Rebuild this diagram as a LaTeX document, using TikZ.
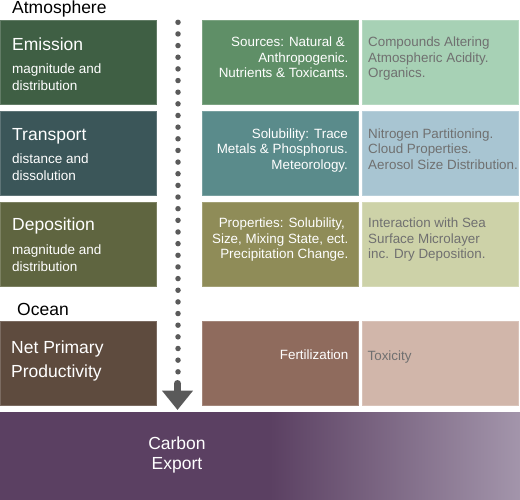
\documentclass[tikz,border=0pt]{standalone}
\usepackage{fontspec}
\setmainfont{Liberation Sans}
\usetikzlibrary{arrows.meta,calc}
\definecolor{cEmis}{HTML}{3F5F44}
\definecolor{cTrans}{HTML}{3B5659}
\definecolor{cDepo}{HTML}{5F6540}
\definecolor{cNpp}{HTML}{5E4B3E}
\definecolor{cSrc}{HTML}{5F8F67}
\definecolor{cSol}{HTML}{5A8B8B}
\definecolor{cProp}{HTML}{8F8C58}
\definecolor{cFert}{HTML}{8F6B5D}
\definecolor{cComp}{HTML}{A7D1B5}
\definecolor{cNitro}{HTML}{A8C5D2}
\definecolor{cInter}{HTML}{CDD2A8}
\definecolor{cTox}{HTML}{D1B6AA}
\definecolor{cExpA}{HTML}{5B4062}
\definecolor{cExpB}{HTML}{A395AB}
\definecolor{txtgray}{HTML}{707070}
\definecolor{dotgray}{HTML}{5A5A5A}
\tikzset{
 box/.style={draw=#1!82!white, line width=0.8pt, fill=#1, minimum width=156.2pt, minimum height=83.7pt, inner sep=0pt, outer sep=0pt, anchor=north west},
 ttl/.style={anchor=base west, inner sep=0pt, text=white, font=\fontsize{17.5}{24}\selectfont},
 subt/.style={anchor=base west, inner sep=0pt, text=white, align=left, font=\fontsize{13.5}{17}\selectfont},
 midt/.style={anchor=base east, inner sep=0pt, text=white, align=right, font=\fontsize{13.4}{15.4}\selectfont},
 rgtt/.style={anchor=base west, inner sep=0pt, text=txtgray, align=left, font=\fontsize{13.4}{15.4}\selectfont},
 head/.style={anchor=base west, inner sep=0pt, text=black, font=\fontsize{17.5}{21}\selectfont},
 dotline/.style={draw=dotgray, line width=5.5pt, line cap=round, dash pattern=on 0pt off 11.65pt},
 bigarrow/.style={draw=dotgray, line width=7pt, -{Triangle[width=30pt,length=19.5pt]}},
}
\begin{document}
\begin{tikzpicture}[x=1pt,y=-1pt]
\useasboundingbox (0,0) rectangle (520,500);
% header labels
\node[head] (atm) at (12,14) {Atmosphere};
\node[head] (ocean) at (17,315.5) {Ocean};
% left column
\node[box=cEmis] (emis) at (0.4,20.4) {};
\node[box=cTrans] (trans) at (0.4,111.4) {};
\node[box=cDepo] (depo) at (0.4,202.4) {};
\node[box=cNpp] (npp) at (0.4,321.4) {};
% middle column
\node[box=cSrc] (src) at (202.4,20.4) {};
\node[box=cSol] (sol) at (202.4,111.4) {};
\node[box=cProp] (prop) at (202.4,202.4) {};
\node[box=cFert] (fert) at (202.4,321.4) {};
% right column
\node[box=cComp] (comp) at (362.4,20.4) {};
\node[box=cNitro] (nitro) at (362.4,111.4) {};
\node[box=cInter] (inter) at (362.4,202.4) {};
\node[box=cTox] (tox) at (362.4,321.4) {};
% carbon export
\node[fill=cExpA, minimum width=520pt, minimum height=88pt, inner sep=0pt, outer sep=0pt, anchor=north west] (export) at (0,412) {};
\shade[left color=cExpA, right color=cExpB] (270,412) rectangle (520,500);
\node[align=center, text=white, inner sep=0pt, font=\fontsize{17.5}{20}\selectfont] (exptxt) at (177,455) {Carbon\\Export};
% left texts (base anchor = last line baseline)
\node[ttl] (emisT) at ($(emis.north west)+(11.6,30)$) {Emission};
\node[subt] (emisS) at ($(emis.north west)+(11.6,70.3)$) {magnitude and\\distribution};
\node[ttl] (transT) at ($(trans.north west)+(11.6,29.2)$) {Transport};
\node[subt] (transS) at ($(trans.north west)+(11.6,69.3)$) {distance and\\dissolution};
\node[ttl] (depoT) at ($(depo.north west)+(11.6,28.2)$) {Deposition};
\node[subt] (depoS) at ($(depo.north west)+(11.6,69)$) {magnitude and\\distribution};
\node[ttl, align=left] (nppT) at ($(npp.north west)+(10.6,56)$) {Net Primary\\Productivity};
% middle texts
\node[midt] (srcT) at ($(src.north east)+(-10,57.4)$) {Sources: Natural \&\hspace*{3.5pt}\\Anthropogenic.\\Nutrients \& Toxicants.};
\node[midt] (solT) at ($(sol.north east)+(-10.5,57.8)$) {Solubility: Trace\\Metals \& Phosphorus.\\Meteorology.};
\node[midt] (propT) at ($(prop.north east)+(-10,56.4)$) {Properties: Solubility,\hspace*{3.5pt}\\Size, Mixing State, ect.\\Precipitation Change.};
\node[midt] (fertT) at ($(fert.north east)+(-10,37.6)$) {Fertilization};
% right texts
\node[rgtt] (compT) at ($(comp.north west)+(5.6,57.4)$) {Compounds Altering\\Atmospheric Acidity.\\Organics.};
\node[rgtt] (nitroT) at ($(nitro.north west)+(5.6,57.8)$) {Nitrogen Partitioning.\\Cloud Properties.\\Aerosol Size Distribution.};
\node[rgtt] (interT) at ($(inter.north west)+(5.6,56.4)$) {Interaction with Sea\\Surface Microlayer\\inc. Dry Deposition.};
\node[rgtt] (toxT) at ($(tox.north west)+(5,38.6)$) {Toxicity};
% dotted flow and arrow
\coordinate (dtop) at (178,22.3);
\coordinate (dbot) at (178,371.8);
\coordinate (ashaft) at (177.5,383.5);
\coordinate (atip) at (177.5,410);
\draw[dotline] (dtop) -- (dbot);
\fill[dotgray] (ashaft) circle (3.5pt);
\draw[bigarrow] (ashaft) -- (atip);
\end{tikzpicture}
\end{document}
